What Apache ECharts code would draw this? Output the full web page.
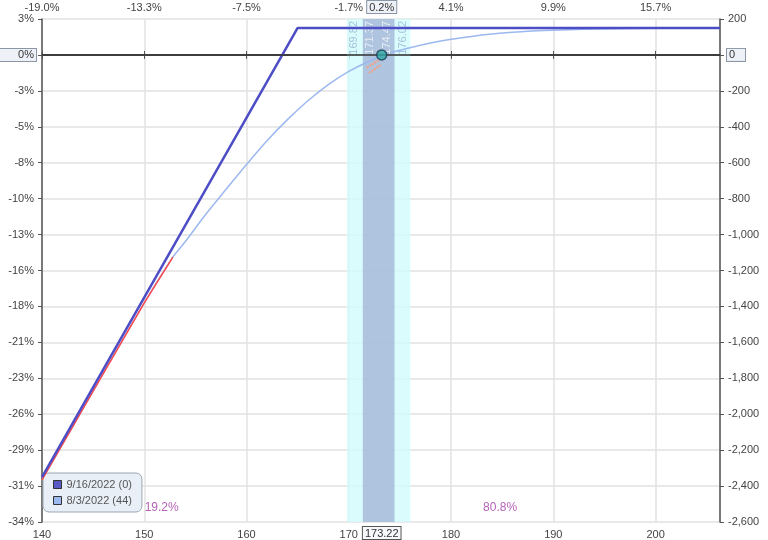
<!DOCTYPE html>
<html>
<head>
<meta charset="utf-8">
<script src="https://cdn.jsdelivr.net/npm/echarts/dist/echarts.min.js"></script>
<style>
  html, body { margin: 0; padding: 0; background: #fff; }
  #chart { width: 768px; height: 540px; }
</style>
</head>
<body>
<div id="chart"></div>
<script>
// expiration P/L (9/16/2022)
const priceExp = [140, 165, 206.3];
const plExp = [-2350, 150, 150];

// T+0 P/L (8/3/2022)
const priceT0 = [140, 145, 150, 152.8, 154, 156, 158, 160, 162, 164, 166, 168, 170, 172, 174, 176, 178, 180, 182, 184, 186, 188, 190, 193, 196, 200, 206.3];
const plT0 = [-2365, -1872, -1380, -1125, -1040, -888, -748, -610, -478, -360, -255, -165, -92, -35, 10, 40, 66, 87, 103, 116, 126, 133, 138, 143, 146, 148, 149];
const redUpTo = 152.8;

// small hatched strokes near the current price
const nearA = [[171.77, -72], [172.94, -28]];
const nearB = [[171.97, -100], [173.14, -56]];

const spotPrice = 173.22;
const spotPct = "0.2%";
const bandOuter = [169.82, 176.02];
const bandInner = [171.37, 174.47];

const topLabels = ["-19.0%", "-13.3%", "-7.5%", "-1.7%", "4.1%", "9.9%", "15.7%"];
const leftLabels = ["3%", "0%", "-3%", "-5%", "-8%", "-10%", "-13%", "-16%", "-18%", "-21%", "-23%", "-26%", "-29%", "-31%", "-34%"];
const probLabels = ["19.2%", "80.8%"];
const probX = [151.7, 184.8];
const probY = -2522;

const legendNames = ["9/16/2022 (0)", "8/3/2022 (44)"];

const xMin = 140, xMax = 206.3, yMin = -2600, yMax = 200;

const chart = echarts.init(document.getElementById("chart"));

const FONT = "Liberation Sans, Arial, sans-serif";
const axisFont = { fontFamily: FONT, fontSize: 11, color: "#444" };
const axisLine = { show: true, lineStyle: { color: "#555", width: 1.5 } };
const tick = { show: true, length: 4, lineStyle: { color: "#555" } };
const split = { show: true, lineStyle: { color: "#e2e2e2", width: 1.5 } };
const hidden = { color: "rgba(0,0,0,0)", width: 0 };

const boxLabel = {
    show: true,
    fontFamily: FONT,
    fontSize: 11,
    color: "#333",
    backgroundColor: "#eef2f8",
    borderColor: "#8a96a4",
    borderWidth: 1,
    padding: [1, 2, 0, 2]
};

const t0Pairs = priceT0.map((p, i) => [p, plT0[i]]);

chart.setOption({
    animation: false,
    grid: { left: 42, right: 48, top: 19, bottom: 18, containLabel: false },
    legend: {
        data: legendNames,
        orient: "vertical",
        left: 43,
        top: 473,
        icon: "rect",
        itemWidth: 8,
        itemHeight: 8,
        itemGap: 5,
        padding: [6, 10, 6, 10],
        backgroundColor: "#e9eff7",
        borderColor: "#9aa6b2",
        borderWidth: 1,
        borderRadius: 6,
        itemStyle: { borderColor: "#333", borderWidth: 1 },
        textStyle: { fontFamily: FONT, fontSize: 11, color: "#555" }
    },
    xAxis: [
        {
            type: "value", min: xMin, max: xMax, interval: 10, position: "bottom",
            axisLine: axisLine, axisTick: tick, splitLine: split,
            axisLabel: Object.assign({ showMaxLabel: false, margin: 7,
                formatter: v => (v % 10 === 0 ? String(v) : "") }, axisFont)
        },
        {
            type: "value", min: xMin, max: xMax, interval: 10, position: "top",
            axisLine: axisLine, axisTick: tick, splitLine: { show: false },
            axisLabel: Object.assign({ showMaxLabel: false, margin: 6,
                formatter: v => {
                    const i = (v - xMin) / 10;
                    return Number.isInteger(i) && topLabels[i] ? topLabels[i] : "";
                } }, axisFont)
        }
    ],
    yAxis: [
        {
            type: "value", min: yMin, max: yMax, interval: 200, position: "left",
            axisLine: axisLine, axisTick: tick, splitLine: split,
            axisLabel: Object.assign({ margin: 8,
                formatter: v => {
                    if (v === 0) return "";
                    const i = (yMax - v) / 200;
                    return leftLabels[i] || "";
                } }, axisFont)
        },
        {
            type: "value", min: yMin, max: yMax, interval: 200, position: "right",
            axisLine: axisLine, axisTick: tick, splitLine: { show: false },
            axisLabel: Object.assign({ margin: 8,
                formatter: v => (v === 0 ? "" : v.toLocaleString("en-US")) }, axisFont)
        }
    ],
    series: [
        {
            // probability bands
            type: "line", data: [], silent: true, z: 1,
            markArea: {
                silent: true,
                data: [
                    [{ xAxis: bandOuter[0], itemStyle: { color: "#d2fbfb", opacity: 0.8 } }, { xAxis: bandOuter[1] }],
                    [{ xAxis: bandInner[0], itemStyle: { color: "#a9bedb", opacity: 0.9 } }, { xAxis: bandInner[1] }]
                ]
            },
            markLine: {
                silent: true, symbol: "none",
                lineStyle: hidden,
                label: { fontFamily: FONT, fontSize: 11, distance: 2 },
                data: [
                    { xAxis: bandOuter[0], label: { position: "insideEndBottom", color: "#a6c4dc", formatter: String(bandOuter[0]) } },
                    { xAxis: bandInner[0], label: { position: "insideEndBottom", color: "#e6edf6", formatter: String(bandInner[0]) } },
                    { xAxis: bandInner[1], label: { position: "insideEndTop", color: "#e6edf6", formatter: String(bandInner[1]) } },
                    { xAxis: bandOuter[1], label: { position: "insideEndTop", color: "#a6c4dc", formatter: String(bandOuter[1]) } }
                ]
            }
        },
        {
            name: legendNames[1],
            type: "line", data: t0Pairs, showSymbol: false, smooth: 0.3, z: 3,
            color: "#9cb8f0",
            lineStyle: { color: "#9cb8f0", width: 1.5 }
        },
        {
            type: "line", data: t0Pairs.filter(d => d[0] <= redUpTo), showSymbol: false, z: 4,
            lineStyle: { color: "#ff4a4a", width: 1.5 }
        },
        {
            type: "line", data: nearA, showSymbol: false, z: 4,
            lineStyle: { color: "#f3a084", width: 2, type: [2, 1] }
        },
        {
            type: "line", data: nearB, showSymbol: false, z: 4,
            lineStyle: { color: "#f3a084", width: 2, type: [2, 1] }
        },
        {
            name: legendNames[0],
            type: "line", data: priceExp.map((p, i) => [p, plExp[i]]), showSymbol: false, z: 5,
            color: "#5a5ac4",
            lineStyle: { color: "#4d4dc6", width: 2.5 }
        },
        {
            // zero line, current price marker and boxed axis labels
            type: "scatter", data: [[spotPrice, 0]], z: 7,
            symbolSize: 10,
            itemStyle: { color: "#2fa7a4", borderColor: "#1b3d55", borderWidth: 1.5 },
            markLine: {
                silent: true, symbol: "none", z: 6,
                data: [
                    { yAxis: 0, lineStyle: { color: "#333", width: 1.5, type: "solid" },
                      label: Object.assign({}, boxLabel, { position: "start", distance: 6, width: 33, align: "right", formatter: "0%" }) },
                    { yAxis: 0, lineStyle: hidden,
                      label: Object.assign({}, boxLabel, { position: "end", distance: 7, width: 14, formatter: "0" }) },
                    { xAxis: spotPrice, lineStyle: hidden,
                      label: Object.assign({}, boxLabel, { position: "end", distance: 6, formatter: spotPct }) },
                    { xAxis: spotPrice, lineStyle: hidden,
                      label: Object.assign({}, boxLabel, { position: "start", distance: 5, backgroundColor: "#f6f8fb", borderColor: "#555", formatter: String(spotPrice) }) }
                ]
            }
        },
        {
            // probability labels
            type: "scatter", symbolSize: 0, silent: true, z: 8,
            data: probLabels.map((t, i) => ({ value: [probX[i], probY], name: t })),
            label: {
                show: true, position: "inside", formatter: p => p.name,
                fontFamily: FONT, fontSize: 12, color: "#a23aa6"
            }
        }
    ]
});
</script>
</body>
</html>
